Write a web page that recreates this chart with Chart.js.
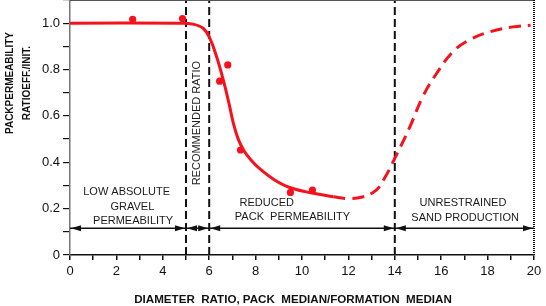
<!DOCTYPE html>
<html>
<head>
<meta charset="utf-8">
<script src="https://cdn.jsdelivr.net/npm/chart.js@4/dist/chart.umd.min.js"></script>
<style>
  html, body { margin: 0; padding: 0; background: #fff; }
  #wrap { width: 546px; height: 306px; }
</style>
</head>
<body>
<div id="wrap"><canvas id="c" width="546" height="306"></canvas></div>
<script>
// ---- data ----
const solidX = [0, 4.7, 5.3, 5.75, 6.03, 6.32, 6.61, 6.85, 7.05, 7.25, 7.5, 7.8, 8.2, 8.8, 9.5, 10.49, 11.35];
const solidY = [1.0, 1.0, 0.996, 0.977, 0.934, 0.855, 0.754, 0.655, 0.565, 0.5, 0.45, 0.41, 0.37, 0.325, 0.29, 0.266, 0.251];
const dashX = [11.35, 11.9, 12.6, 13.2, 13.55, 14.0, 14.65, 15.2, 15.8, 16.5, 17.2, 18.1, 19.1, 19.85];
const dashY = [0.251, 0.244, 0.25, 0.28, 0.33, 0.417, 0.553, 0.682, 0.783, 0.876, 0.927, 0.963, 0.984, 0.991];
const pointX = [2.7, 4.85, 6.45, 6.8, 7.35, 9.5, 10.45];
const pointY = [1.017, 1.02, 0.75, 0.82, 0.453, 0.27, 0.28];
const boundaryX = [5, 6, 14];
const arrowY = 0.115;
const arrowSpans = [[0, 5], [5, 6], [6, 14], [14, 20]];
const xMin = 0, xMax = 20, yMin = 0, yMax = 1.1;
const xLabelTicks = [0, 2, 4, 6, 8, 10, 12, 14, 16, 18, 20];
const yLabelTicks = [0, 0.2, 0.4, 0.6, 0.8, 1.0];
const regionLabels = [
  { text: 'LOW ABSOLUTE', x: 2.44, y: 0.27 },
  { text: 'GRAVEL', x: 2.69, y: 0.206 },
  { text: 'PERMEABILITY', x: 2.72, y: 0.148 },
  { text: 'REDUCED', x: 8.48, y: 0.223 },
  { text: 'PACK  PERMEABILITY', x: 9.59, y: 0.1625 },
  { text: 'UNRESTRAINED', x: 16.94, y: 0.225 },
  { text: 'SAND PRODUCTION', x: 17.03, y: 0.161 }
];
const verticalLabel = { text: 'RECOMMENDED RATIO', x: 5.49, y: 0.569 };
const xTitle = 'DIAMETER  RATIO, PACK  MEDIAN/FORMATION  MEDIAN';
const yTitleLines = ['PACKPERMEABILITY', 'RATIOEFF./INIT.'];

// ---- build datasets ----
const red = 'rgb(245,18,28)';
const toXY = (xs, ys) => xs.map((x, i) => ({ x: x, y: ys[i] }));
const datasets = [];
boundaryX.forEach(b => datasets.push({
  data: [{ x: b, y: yMin }, { x: b, y: yMax }],
  borderColor: '#111', borderWidth: 2, borderDash: [8, 4], pointRadius: 0, order: 5
}));
datasets.push({
  data: [{ x: xMin, y: arrowY }, { x: xMax, y: arrowY }],
  borderColor: '#111', borderWidth: 1.5, pointRadius: 0, order: 5
});
datasets.push({
  data: toXY(solidX, solidY), borderColor: red, borderWidth: 3, pointRadius: 0,
  tension: 0.4, order: 1
});
datasets.push({
  data: toXY(dashX, dashY), borderColor: red, borderWidth: 3, borderDash: [12, 7], pointRadius: 0,
  tension: 0.4, order: 1
});
datasets.push({
  data: toXY(pointX, pointY), showLine: false, pointRadius: 3.6, pointBackgroundColor: red,
  pointBorderWidth: 0, order: 0
});

const annot = {
  id: 'annot',
  afterDatasetsDraw(chart) {
    const ctx = chart.ctx, xs = chart.scales.x, ys = chart.scales.y, ca = chart.chartArea;
    ctx.save();
    // arrowheads
    ctx.fillStyle = '#111';
    const yp = ys.getPixelForValue(arrowY);
    const head = (xp, dir) => {
      ctx.beginPath();
      ctx.moveTo(xp, yp);
      ctx.lineTo(xp - dir * 10, yp - 3);
      ctx.lineTo(xp - dir * 10, yp + 3);
      ctx.closePath();
      ctx.fill();
    };
    arrowSpans.forEach(([a, b]) => {
      head(xs.getPixelForValue(a) + 1, -1);
      head(xs.getPixelForValue(b) - 1, 1);
    });
    // borders: top and right
    ctx.strokeStyle = '#555'; ctx.lineWidth = 1;
    ctx.beginPath(); ctx.moveTo(ca.left, ca.top + 0.5); ctx.lineTo(ca.right, ca.top + 0.5); ctx.stroke();
    ctx.strokeStyle = '#111'; ctx.lineWidth = 2; ctx.setLineDash([1, 1]);
    ctx.beginPath(); ctx.moveTo(ca.right, ca.top); ctx.lineTo(ca.right, ca.bottom); ctx.stroke();
    ctx.setLineDash([]);
    // region labels
    ctx.fillStyle = '#1a1a1a';
    ctx.font = '11px "Liberation Sans", Arial, sans-serif';
    ctx.textAlign = 'center'; ctx.textBaseline = 'middle';
    regionLabels.forEach(l => ctx.fillText(l.text, xs.getPixelForValue(l.x), ys.getPixelForValue(l.y)));
    ctx.save();
    ctx.translate(xs.getPixelForValue(verticalLabel.x), ys.getPixelForValue(verticalLabel.y));
    ctx.rotate(-Math.PI / 2);
    ctx.fillText(verticalLabel.text, 0, 0);
    ctx.restore();
    // axis titles
    ctx.fillStyle = '#111';
    ctx.font = 'bold 11.6px "Liberation Sans", Arial, sans-serif';
    ctx.fillText(xTitle, 293, 300);
    ctx.font = 'bold 10px "Liberation Sans", Arial, sans-serif';
    yTitleLines.forEach((t, i) => {
      ctx.save();
      ctx.translate(10 + i * 17, 83);
      ctx.rotate(-Math.PI / 2);
      ctx.fillText(t, 0, 0);
      ctx.restore();
    });
    ctx.restore();
  }
};

new Chart(document.getElementById('c'), {
  type: 'line',
  data: { datasets: datasets },
  options: {
    responsive: false,
    animation: false,
    events: [],
    layout: { autoPadding: false, padding: { top: 0, right: 12, left: 0, bottom: 0 } },
    plugins: { legend: { display: false }, tooltip: { enabled: false } },
    scales: {
      x: {
        type: 'linear', min: xMin, max: xMax,
        afterFit(s) { s.height = 51; s.paddingLeft = 0; s.paddingRight = 0; },
        border: { color: '#111', width: 1.5 },
        grid: { drawOnChartArea: false, drawTicks: true, tickLength: 5, color: '#111', lineWidth: 1.5 },
        ticks: {
          stepSize: 1, autoSkip: false, maxRotation: 0, padding: 4, color: '#111',
          font: { family: '"Liberation Sans", Arial, sans-serif', size: 13 },
          callback: v => xLabelTicks.includes(v) ? String(v) : ''
        }
      },
      y: {
        type: 'linear', min: yMin, max: yMax,
        afterFit(s) { s.width = 70; s.paddingTop = 0; s.paddingBottom = 0; },
        border: { color: '#777', width: 1.5, dash: [1, 1] },
        grid: { drawOnChartArea: false, drawTicks: true, tickLength: 7, color: '#111', lineWidth: 1.2 },
        ticks: {
          stepSize: 0.1, autoSkip: false, padding: 3, color: '#111',
          font: { family: '"Liberation Sans", Arial, sans-serif', size: 13 },
          callback: v => {
            const r = Math.round(v * 10) / 10;
            const hit = yLabelTicks.find(t => Math.abs(t - r) < 1e-9);
            if (hit === undefined) return '';
            return hit === 0 ? '0' : hit.toFixed(1);
          }
        }
      }
    }
  },
  plugins: [annot]
});
</script>
</body>
</html>
